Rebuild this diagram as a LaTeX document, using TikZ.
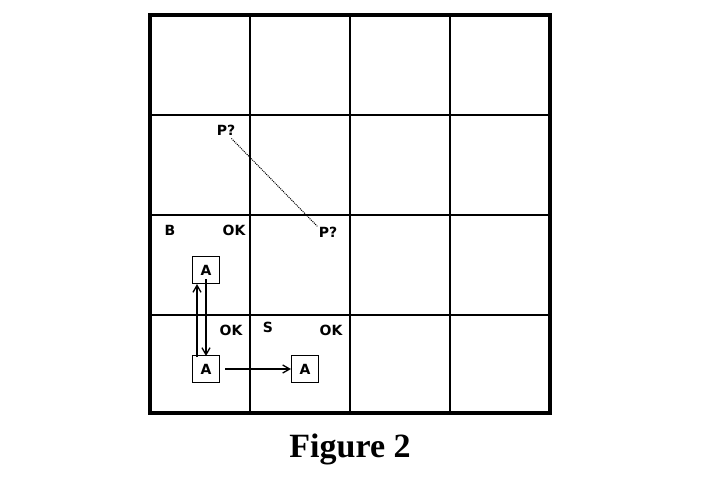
\documentclass[tikz,border=0pt]{standalone}
\usepackage{fontspec}
\setmainfont{Liberation Serif}
\setsansfont{DejaVu Sans}
\usetikzlibrary{arrows.meta,calc}
\begin{document}
\begin{tikzpicture}[x=1pt,y=-1pt,
 lab/.style={font=\sffamily\bfseries\fontsize{14}{15}\selectfont,inner sep=0},
 agent/.style={draw,line width=1pt,fill=white,minimum width=27pt,minimum height=27pt,inner sep=0,font=\sffamily\bfseries\fontsize{14}{15}\selectfont},
 mv/.style={line width=1.3pt,-{Straight Barb[length=7pt,width=8pt]}}]
\useasboundingbox (0,0) rectangle (714,498);
\foreach \x in {250,350,450} \draw[line width=1.8pt] (\x,15) -- (\x,413);
\foreach \y in {115,215,315} \draw[line width=1.8pt] (150,\y) -- (550,\y);
\draw[line width=3.2pt] (150,15) rectangle (550,413);
\node[lab] (p1) at (226,130) {P?};
\node[lab] (p2) at (328,232) {P?};
\draw[densely dotted,line width=1pt] ($(p1.south east)+(-4,3)$) coordinate (c1) -- ($(p2.north west)+(-1,0)$) coordinate (c2);
\node[lab] (b) at (170,230) {B};
\node[lab] (ok1) at (234,230) {OK};
\node[lab] (ok2) at (231,330) {OK};
\node[lab] (s) at (268,327) {S};
\node[lab] (ok3) at (331,330) {OK};
\node[agent] (a1) at (206,270) {A};
\node[agent] (a2) at (206,369) {A};
\node[agent] (a3) at (305,369) {A};
\draw[mv] ([xshift=-9pt,yshift=-2pt]a2.north) -- ([xshift=-9pt]a1.south);
\draw[mv] ([yshift=5pt]a1.south) -- ([yshift=-1pt]a2.north);
\draw[mv] ($(a2.east)+(5,0)$) -- (a3.west);
\node[font=\bfseries\fontsize{34}{36}\selectfont] (fig) at (350,449) {Figure 2};
\end{tikzpicture}
\end{document}
